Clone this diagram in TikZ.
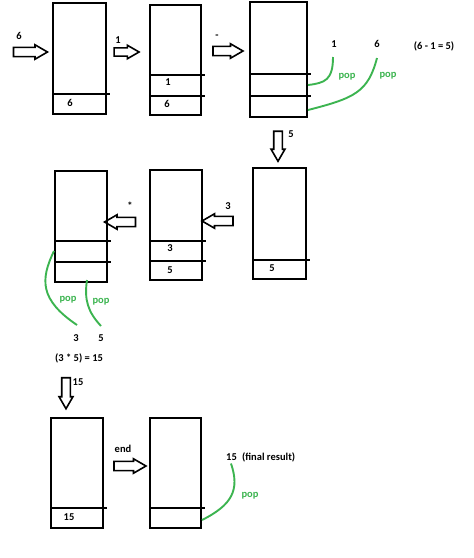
\documentclass[tikz,border=0pt]{standalone}
\usepackage{fontspec}
\setmainfont{Carlito}
\usetikzlibrary{shapes.arrows}
\definecolor{popgreen}{RGB}{60,180,80}
\begin{document}
\begin{tikzpicture}[x=1pt,y=-1pt,
  stackbox/.style={draw=black,line width=2pt,minimum width=#1,inner sep=0pt,anchor=north west,fill=none},
  blockarrow/.style={single arrow,draw=black,line width=1.6pt,minimum height=#1,inner xsep=0pt,inner ysep=3.8pt,single arrow head extend=2.6pt,single arrow tip angle=60,single arrow head indent=0pt},
  lbl/.style={font=\fontsize{10.5}{12}\selectfont\bfseries,inner sep=1pt},
  poplbl/.style={lbl,text=popgreen},
  popline/.style={draw=popgreen,line width=1.9pt},
  divider/.style={line width=2pt}]
\useasboundingbox (0,0) rectangle (474,558);

% ---------- row 1 ----------
\node[stackbox=53pt,minimum height=111pt] (A) at (52,2) {};
\draw[divider] ([yshift=21pt]A.south west) -- ([yshift=21pt,xshift=3pt]A.south east);
\node[lbl] (a6) at (70,103) {6};

\node[stackbox=51pt,minimum height=110pt] (B) at (149,4) {};
\draw[divider] ([yshift=41pt]B.south west) -- ([yshift=41pt,xshift=3pt]B.south east);
\draw[divider] ([yshift=20pt]B.south west) -- ([yshift=20pt,xshift=3pt]B.south east);
\node[lbl] (b1) at (168,82) {1};
\node[lbl] (b6) at (167,104) {6};

\node[stackbox=57pt,minimum height=115pt] (C) at (249,1) {};
\draw[divider] ([yshift=44pt]C.south west) -- ([yshift=44pt,xshift=3pt]C.south east);
\draw[divider] ([yshift=22pt]C.south west) -- ([yshift=22pt,xshift=3pt]C.south east);

\node[blockarrow=34pt] (ar6) at (26.5,52) {};
\node[lbl] (t6) at (19,36) {6};
\node[blockarrow=25pt,inner ysep=3.3pt] (ar1) at (123,52) {};
\node[lbl] (t1) at (118,40) {1};
\node[blockarrow=30pt] (arm) at (224,51) {};
\node[lbl] (tm) at (217,37) {-};

\node[lbl] (c1) at (334,44) {1};
\node[lbl] (c6) at (377,44) {6};
\node[lbl] (eq1) at (434,46) {(6 - 1 = 5)};
\coordinate (c1s) at (333,57);
\coordinate (c6s) at (377,58);
\draw[popline] ([yshift=33pt]C.south east) .. controls (325,83) and (333,80) .. (c1s);
\node[poplbl] (pop1) at (347,77) {pop};
\draw[popline] ([yshift=8pt]C.south east) .. controls (355,98) and (368,92) .. (c6s);
\node[poplbl] (pop2) at (388,76) {pop};

\node[blockarrow=30pt,rotate=-90,inner ysep=3.5pt] (ar5) at (278,142.5) {};
\node[lbl] (t5) at (291,134) {5};

% ---------- row 2 ----------
\node[stackbox=52pt,minimum height=111pt] (D) at (54,170) {};
\draw[divider] ([yshift=42pt]D.south west) -- ([yshift=42pt,xshift=3pt]D.south east);
\draw[divider] ([yshift=21pt]D.south west) -- ([yshift=21pt,xshift=3pt]D.south east);

\node[stackbox=52pt,minimum height=110pt] (E) at (149,169) {};
\draw[divider] ([yshift=40pt]E.south west) -- ([yshift=40pt,xshift=3pt]E.south east);
\draw[divider] ([yshift=20pt]E.south west) -- ([yshift=20pt,xshift=3pt]E.south east);
\node[lbl] (e3) at (170,248) {3};
\node[lbl] (e5) at (170,270) {5};

\node[stackbox=53pt,minimum height=111pt] (F) at (252,167) {};
\draw[divider] ([yshift=20pt]F.south west) -- ([yshift=20pt,xshift=3pt]F.south east);
\node[lbl] (f5) at (272,268) {5};

\node[blockarrow=31pt,shape border rotate=180] (arst) at (124,222) {};
\node[lbl] (tst) at (130,206) {*};
\node[blockarrow=31pt,shape border rotate=180] (ar3) at (221.5,221) {};
\node[lbl] (t3) at (228,206) {3};

\node[lbl] (d3) at (76,338) {3};
\node[lbl] (d5) at (101,338) {5};
\coordinate (d3n) at (77,325);
\coordinate (d5n) at (101,326);
\draw[popline] ([yshift=32pt]D.south west) .. controls (40,280) and (40,300) .. (d3n);
\node[poplbl] (pop3) at (68,300) {pop};
\draw[popline] (87,280) .. controls (84,300) and (88,312) .. (d5n);
\node[poplbl] (pop4) at (101,302) {pop};
\node[lbl] (eq2) at (79,358) {(3 * 5) = 15};

\node[blockarrow=31pt,rotate=-90,inner ysep=3.5pt] (ar15) at (66,389.5) {};
\node[lbl] (t15) at (78,382) {15};

% ---------- row 3 ----------
\node[stackbox=52pt,minimum height=110pt] (G) at (50,417) {};
\draw[divider] ([yshift=21pt]G.south west) -- ([yshift=21pt,xshift=3pt]G.south east);
\node[lbl] (g15) at (69,517) {15};

\node[stackbox=51pt,minimum height=110pt] (H) at (149,417) {};
\draw[divider] ([yshift=21pt]H.south west) -- ([yshift=21pt,xshift=3pt]H.south east);

\node[blockarrow=32pt] (arend) at (126,466) {};
\node[lbl] (tend) at (123,449) {end};

\node[lbl,anchor=west] (res) at (225,457) {15\hspace{0.5em}(final result)};
\coordinate (resn) at (231,463.5);
\draw[popline] ([yshift=9pt]H.south east) .. controls (232,505) and (240,490) .. (resn);
\node[poplbl] (pop5) at (250,496) {pop};
\end{tikzpicture}
\end{document}
